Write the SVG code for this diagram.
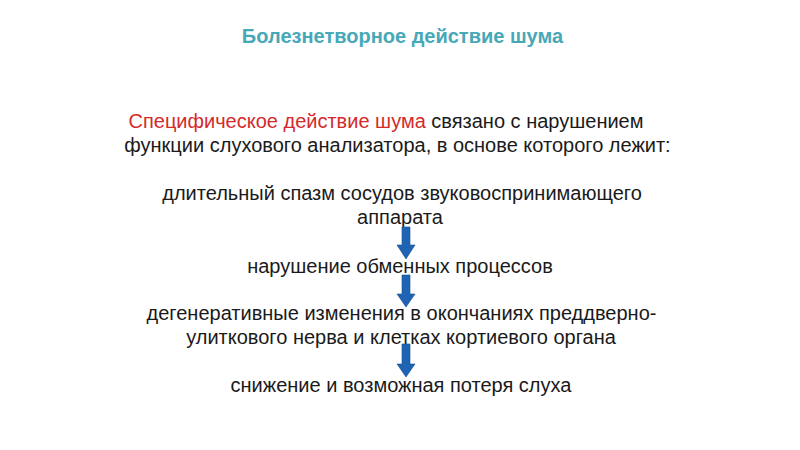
<svg xmlns="http://www.w3.org/2000/svg" width="800" height="450" viewBox="0 0 800 450">
<defs>
<style>
.t{font-family:"Liberation Sans",Arial,sans-serif;font-size:20px;fill:#1a1a1a;text-anchor:middle}
.title{font-family:"Liberation Sans",Arial,sans-serif;font-size:20px;font-weight:bold;fill:#47a8b8;text-anchor:middle}
.red{fill:#d42a2a}
.arrow{fill:#1f64b4;stroke:#16508f;stroke-width:0.6}
</style>
</defs>
<rect width="800" height="450" fill="#ffffff"/>
<g id="title"><text class="title" x="402.5" y="43">Болезнетворное действие шума</text></g>
<g id="intro">
<text class="t" x="386" y="128"><tspan class="red">Специфическое действие шума</tspan> связано с нарушением</text>
<text class="t" x="397.5" y="152">функции слухового анализатора, в основе которого лежит:</text>
</g>
<g id="step1">
<text class="t" x="402" y="200">длительный спазм сосудов звуковоспринимающего</text>
<text class="t" x="400" y="224">аппарата</text>
</g>
<g id="step2"><text class="t" x="400" y="273">нарушение обменных процессов</text></g>
<g id="step3">
<text class="t" x="401.5" y="320">дегенеративные изменения в окончаниях преддверно-</text>
<text class="t" x="401" y="344">улиткового нерва и клетках кортиевого органа</text>
</g>
<g id="step4"><text class="t" x="401" y="392">снижение и возможная потеря слуха</text></g>
<g id="connectors">
<path class="arrow" d="M402,227 H410 V245 H415 L406,259 L397,245 H402 Z"/>
<path class="arrow" d="M402,275 H410 V294 H415 L406,307 L397,294 H402 Z"/>
<path class="arrow" d="M402,344 H410 V364 H415 L406,377 L397,364 H402 Z"/>
</g>
</svg>
